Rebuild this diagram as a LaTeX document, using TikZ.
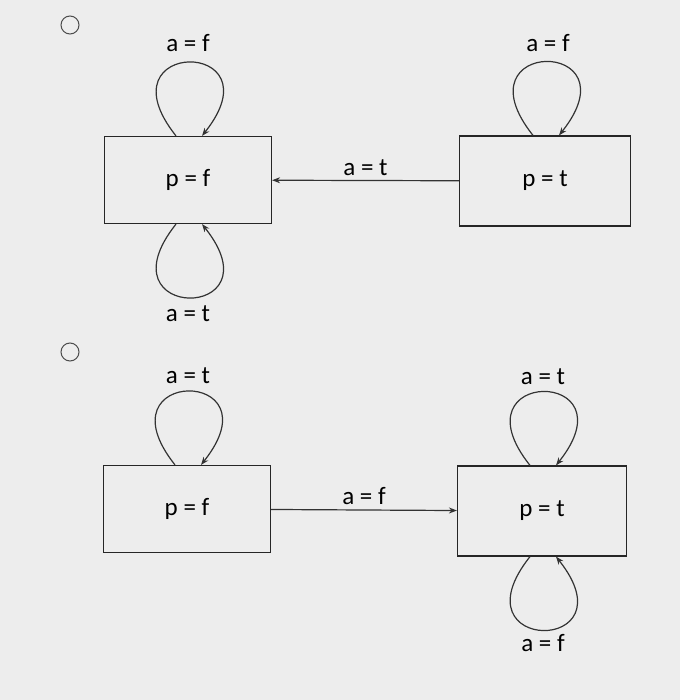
\documentclass[tikz,border=0pt]{standalone}
\usepackage{fontspec}
\setmainfont{Carlito}
\usetikzlibrary{arrows.meta}
\begin{document}
\begin{tikzpicture}[x=1pt,y=-1pt,
  state/.style={draw=black!85,line width=1.2pt,minimum width=167pt,minimum height=87pt,inner sep=0pt,font=\fontsize{25}{27}\selectfont,text=black},
  lbl/.style={font=\fontsize{25}{27}\selectfont,text=black},
  conn/.style={draw=black!80,line width=1.2pt,-{Stealth[length=8pt,width=6pt]}},
  radio/.style={circle,draw=black!70,line width=1pt,minimum size=18pt,inner sep=0pt}]
\fill[black!7] (0,0) rectangle (680,700);
\useasboundingbox (0,0) rectangle (680,700);
\node[radio] (r1) at (70,25) {};
\node[radio] (r2) at (70,352) {};
% top
\node[state] (b1) at (188,180) {p = f};
\node[state,minimum width=171pt,minimum height=90pt] (b2) at (545,181) {p = t};
\draw[conn] (b2) -- node[lbl,above=1pt]{a = t} (b1);
\draw[conn] ([xshift=-12pt]b1.north) .. controls +(-78,-98) and +(78,-98) .. ([xshift=14pt]b1.north);
\node[lbl] (l1) at (188,43) {a = f};
\draw[conn] ([xshift=-12pt]b1.south) .. controls +(-78,98) and +(78,98) .. ([xshift=14pt]b1.south);
\node[lbl] (l2) at (188,314) {a = t};
\draw[conn] ([xshift=-12pt]b2.north) .. controls +(-78,-98) and +(78,-98) .. ([xshift=14pt]b2.north);
\node[lbl] (l3) at (548,43) {a = f};
% bottom
\node[state] (b3) at (187,509) {p = f};
\node[state,minimum width=169pt,minimum height=90pt] (b4) at (542,511) {p = t};
\draw[conn] (b3) -- node[lbl,above=1pt]{a = f} (b4);
\draw[conn] ([xshift=-12pt]b3.north) .. controls +(-78,-98) and +(78,-98) .. ([xshift=14pt]b3.north);
\node[lbl] (l4) at (188,376) {a = t};
\draw[conn] ([xshift=-12pt]b4.north) .. controls +(-78,-98) and +(78,-98) .. ([xshift=14pt]b4.north);
\node[lbl] (l5) at (543,377) {a = t};
\draw[conn] ([xshift=-12pt]b4.south) .. controls +(-78,98) and +(78,98) .. ([xshift=14pt]b4.south);
\node[lbl] (l6) at (543,643) {a = f};
\end{tikzpicture}
\end{document}
